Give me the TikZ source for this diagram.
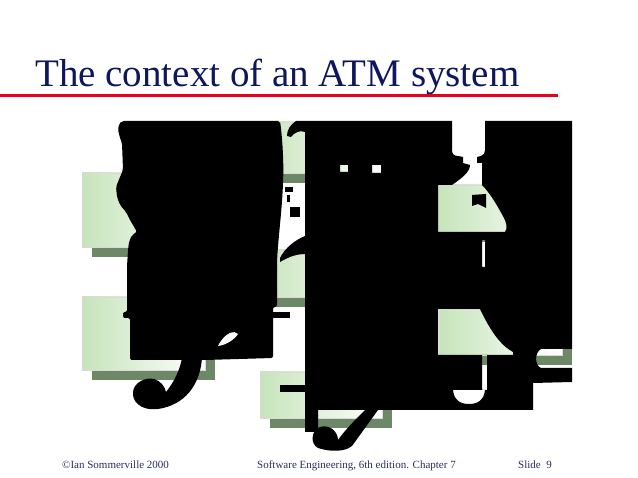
\documentclass[tikz,border=0pt]{standalone}
\usepackage{fontspec}
\setmainfont{Liberation Serif}
\usetikzlibrary{shadows}
\definecolor{titlenavy}{RGB}{14,22,92}
\definecolor{footnavy}{RGB}{40,46,100}
\definecolor{rulered}{RGB}{232,0,28}
\definecolor{boxgreen}{RGB}{198,228,186}
\definecolor{shadowgreen}{RGB}{108,136,102}
\begin{document}
\begin{tikzpicture}[x=1pt,y=-1pt,
  gbox/.style={draw=black!15, line width=0.5pt, left color=boxgreen, right color=white,
    inner sep=0pt, drop shadow={shadow xshift=10pt, shadow yshift=-10pt, fill=shadowgreen, opacity=1}},
  blob/.style={fill=black},
  gap/.style={fill=white}]
\useasboundingbox (0,0) rectangle (638,478);
\fill[white] (0,0) rectangle (638,478);
% title and rule
\node[anchor=base west, inner sep=0pt, text=titlenavy, font=\fontsize{39}{39}\selectfont] (title) at (35,87) {The context of an ATM system};
\coordinate (ruleL) at (0,96);
\coordinate (ruleR) at (558,96);
\draw[rulered, line width=3pt] (ruleL) -- (ruleR);
% boxes
\node[gbox, minimum width=123pt, minimum height=74pt] (boxA) at (143.5,210) {};
\node[gbox, minimum width=122pt, minimum height=51pt] (boxB) at (321,147.5) {};
\node[gbox, minimum width=124pt, minimum height=47pt] (boxC) at (500,208.5) {};
\node[gbox, minimum width=122pt, minimum height=47pt] (boxD) at (321,273.5) {};
\node[gbox, minimum width=123pt, minimum height=73pt] (boxE) at (143.5,333.5) {};
\node[gbox, minimum width=122pt, minimum height=46pt] (boxF) at (321,395) {};
\node[gbox, minimum width=123pt, minimum height=46pt] (boxG) at (500.5,332) {};
% giant glyph blots, left part
\fill[blob, rounded corners=2pt] (122,121) -- (280,121) .. controls (282,135) and (284,160) .. (283,183)
  .. controls (282,210) and (278,240) .. (277,262) -- (277,307) -- (273,307) -- (273,358) -- (205,360)
  -- (130,360) -- (130,318) -- (123,318) -- (123,312) -- (127,312) -- (127,267) -- (128,250)
  -- (129,242) -- (132,235) -- (137,232) -- (130,220) -- (126,212) -- (120,205) -- (117,197)
  -- (116,187) -- (120,177) -- (123,170) -- (122,143) -- (120,138) -- (118,130) -- (119,124) -- cycle;
\fill[blob] (182,358) -- (202,358) .. controls (200,385) and (185,405) .. (158,409)
  .. controls (140,411) and (132,401) .. (133,392) .. controls (134,382) and (146,377) .. (154,379)
  .. controls (161,381) and (165,387) .. (166,392) .. controls (174,382) and (180,370) .. (182,358) -- cycle;
\fill[gap] (218,346) .. controls (225,332) and (235,330) .. (238,334) .. controls (234,340) and (226,345) .. (218,346) -- cycle;
% right part with holes
\fill[blob, even odd rule] (296,121) -- (452,121) -- (452,150) .. controls (452,154) and (454,156) .. (458,156)
  -- (463,157) -- (463,163) -- (470,165) .. controls (470,172) and (462,178) .. (452,185) -- (438,185)
  -- (438,232) -- (505,232) .. controls (508,228) and (506,222) .. (504,218)
  .. controls (497,205) and (490,193) .. (482,185) -- (482,163) -- (477,163) -- (477,157) -- (481,156)
  .. controls (484,155) and (485,153) .. (485,150) -- (485,121) -- (572,121) -- (572,349) -- (541,349)
  .. controls (535,352) and (534,365) .. (541,368) -- (572,368) -- (572,382) -- (533,383) -- (533,410)
  -- (318,410) -- (318,432) -- (305,432) -- (305,132) .. controls (300,130) and (295,132) .. (291,137)
  -- (287,136) .. controls (287,130) and (290,125) .. (296,121) -- cycle
  (438,309) -- (480,309) .. controls (490,330) and (500,345) .. (513,352) -- (513,355) -- (438,355) -- cycle
  (482,240) rectangle (485,267)
  (482,355) rectangle (487,390)
  (453,390) -- (485,390) .. controls (484,400) and (478,404) .. (469,404) .. controls (460,404) and (454,400) .. (453,390) -- cycle
  (340,165) rectangle (348,172)
  (372,165) rectangle (381,173);
\fill[blob] (472,195) -- (486,194) -- (486,208) -- (478,204) -- (472,206) -- cycle;
% glyph bits inside the middle column
\fill[blob] (285,187) rectangle (293,192);
\fill[blob] (287,195) rectangle (290,202);
\fill[blob] (290,207) rectangle (300,217);
\fill[blob] (305,236) .. controls (295,240) and (285,248) .. (280,258) -- (280,262) .. controls (290,256) and (298,254) .. (305,254) -- cycle;
\fill[blob] (273,312) rectangle (290,318);
\fill[blob] (280,385) rectangle (305,392);
% descender below
\fill[blob] (365,410) -- (378,410) -- (352,446) .. controls (345,452) and (330,452) .. (318,448)
  .. controls (310,444) and (311,430) .. (320,427) .. controls (330,424) and (338,432) .. (338,440)
  .. controls (345,430) and (355,420) .. (365,410) -- cycle;
% footer
\node[anchor=base west, inner sep=0pt, text=footnavy, font=\fontsize{11}{11}\selectfont] (foot1) at (62,469) {©Ian Sommerville 2000};
\node[anchor=base west, inner sep=0pt, text=footnavy, font=\fontsize{11}{11}\selectfont] (foot2) at (257,469) {Software Engineering, 6th edition. Chapter 7};
\node[anchor=base west, inner sep=0pt, text=footnavy, font=\fontsize{11}{11}\selectfont] (foot3) at (518,469) {Slide\ \ 9};
\end{tikzpicture}
\end{document}
